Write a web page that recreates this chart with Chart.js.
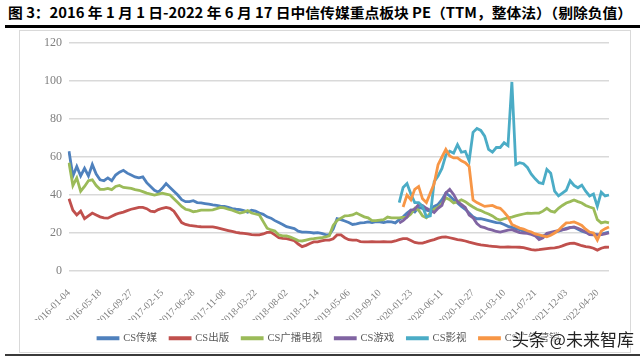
<!DOCTYPE html>
<html><head><meta charset="utf-8">
<script src="https://cdn.jsdelivr.net/npm/chart.js@4.4.1/dist/chart.umd.min.js"></script>
<style>
html,body{margin:0;padding:0;background:#fff;}
#wrap{position:relative;width:640px;height:356px;overflow:hidden;background:#fff;}
#title{position:absolute;left:8px;top:4px;font:bold 14px "Noto Sans CJK SC",sans-serif;color:#000;white-space:nowrap;line-height:16px;transform-origin:0 0;}
#rule{position:absolute;left:5px;right:0;top:25px;height:3px;background:#000;}
#frame{position:absolute;left:19px;top:30px;width:610px;height:321px;border:1px solid #d9d9d9;}
#bottom{position:absolute;left:5px;right:0;top:354px;height:2px;background:#3a3a3a;}
#c{position:absolute;left:0;top:0;}
#wm{position:absolute;left:512px;top:328px;font:17px "Noto Sans CJK SC",sans-serif;color:#222;white-space:nowrap;line-height:22px;text-shadow:0 0 2px #fff,0 0 3px #fff,0 0 3px #fff;}
</style></head>
<body><div id="wrap">
<div id="title">图 3：2016 年 1 月 1 日-2022 年 6 月 17 日中信传媒重点板块 PE（TTM，整体法）（剔除负值）</div>
<div id="rule"></div>
<div id="frame"></div>
<canvas id="c" width="640" height="356"></canvas>
<div id="bottom"></div>
<div id="wm">头条 @未来智库</div>
</div>
<script>
// tick labels shown on the x axis (one every 8 data points)
const tickLabels = ['2016-01-04','2016-05-18','2016-09-27','2017-02-15','2017-06-28','2017-11-08','2018-03-22','2018-08-02','2018-12-14','2019-05-06','2019-09-10','2020-01-23','2020-06-11','2020-10-27','2021-03-10','2021-07-21','2021-12-03','2022-04-20'];
const seriesNames = ['CS传媒','CS出版','CS广播电视','CS游戏','CS影视','CS广告营销'];
const POINTS = 140;
const STEP = 8;

const csMedia = [63,50,55,50,54,50,56,51,48,47.5, 49,47.5,50.5,52,53,51.5,50.5,49.5,49,49.5, 46.5,44.5,42.5,41.5,43.5,46,44,42,40,37.5, 36.5,36.5,37,36,35.8,35.5,35.2,34.8,34.5,34.2, 34,33.5,32.8,32.5,32.3,31.8,31,32,31.5,30.5, 29.8,28.5,27.8,26.5,25.5,24.5,23.3,22.8,22.3,21, 20.5,20.5,20.3,20,20.2,19.8,19.2,19,22,27.5, 27,26.3,25.5,24.5,24.8,25.3,25.5,25.8,25.5,26, 25.8,25.5,26,25.8,25.3,27,28.5,30.5,32,31, 33.5,33,32,31.5,34,35,37.5,41,39.5,37.5, 35.8,34,32.5,30.5,28.5,27.5,27.5,27,26.5,26, 25.5,25.3,24.5,23.5,23,22.3,21.8,21,20.5,19.8, 19,18,18.5,19.2,19.8,20.5,21,21.8,22.5,23, 23,22,21,20.3,19.8,19.5,19,19.3,20,20.5];
const csPublish = [38,32,29.5,31.5,27.5,29,30.5,29.5,28.5,28, 27.8,28.8,29.8,30.5,31,31.8,32.5,33,33.5,33.5, 32.8,31.5,31.2,32.3,33,33.5,33,31.5,28.5,25.5, 24.5,24,23.8,23.5,23.3,23.2,23.2,23.2,22.8,22.3, 21.8,21.3,20.8,20.3,20,19.8,19.5,19.2,19,19, 19.5,20.3,20.3,19,17.6,17.2,17,16.5,16,14.2, 12.8,13.5,14.5,15.3,15.3,15.8,16.2,16.3,17,19, 19,17.5,16.5,16.3,16.3,15.5,15.3,15.3,15.5,15.3, 15.3,15.5,15.3,15.3,15.8,16.5,17,17,16,15, 14.7,14.7,15.3,16,16.5,17.3,17.8,18,17.5,17, 16.5,16.3,15.8,15.2,14.7,14.2,13.7,13.5,13.2,13, 12.8,12.6,12.6,12.7,12.6,12.6,12.5,12.3,11.8,11.3, 11,11.2,11.5,11.8,12,12.2,12.5,13.2,14,14.5, 14.7,14,13.3,12.8,12.6,12,11,12,12.5,12.6];
const csBroadcast = [57,45,49,42,44.5,47.5,48,45,43,43, 43.5,42.8,44.5,45,44,43.8,43.5,42.8,42.5,41.8, 41,40.5,40,40.5,41,40.5,40,38,36,34, 32.5,32,31.2,31.5,32,32,32,32.2,32.8,33.5, 33.2,32.5,32,31.2,30.5,31,31.8,30.5,30,29.5, 26,22.5,21.6,21,19,18.5,18.5,17.8,17,16, 15.8,16.3,16.8,17,17.3,17.5,17.9,18.5,24,26.5, 27.8,29,29.2,29.5,30.5,29.5,28.5,28,26.5,26.5, 26.8,27,28.4,28,28,28,28.2,28.4,30,33, 32,29,28,30.5,32.5,33.5,35.5,38.5,37.5,35.8, 36.5,37.5,36.5,35,33.7,32.5,31.8,30.8,30,29, 27.5,26.8,27.5,28,28.4,29,29.5,30,30.5,30.3, 30.5,30.5,31.5,33,31.5,31,33,34.5,35.8,36.5, 37.4,36.5,35.8,34.5,33.7,33,27,25.3,25.8,25.3];
// the three series below start later (first value at index 85 / 85 / 86)
const gameStart = 85;
const csGame = [25.3,26.5,28.4,32,32.5, 35,34.5,33,32,30.8,33,34.5,41,43,40.3, 36.5,35,33.5,29.5,28,25,23.3,22.8,22,21.5, 20.8,20.5,21,21.5,21.8,21,20.2,20,19.8,19.2, 18.5,16.5,17.5,19.8,20.3,20.8,21.3,21.6,22,22.8, 23.2,22.5,21.6,20.5,19.2,19,19,19.2,19.6,20];
const filmStart = 85;
const csFilm = [36,44,46,40.5,36, 36,34,28.5,29,47,50,54,61,63,62, 66.5,62.5,63,58,73,75,74,71,64,62.6, 65,65,67.5,66,99.5,56,57,56.5,54.5,51, 48.5,46.5,46,53.5,51.5,42,39.5,41,42.5,47.5, 45,43.8,45.2,42,39.5,40.5,34,41.5,39.5,40];
const adStart = 86;
const csAd = [33.7,40,37.5,43, 44.5,38,36,41,46,56,60,64,60.5,59.5, 59.5,58,57,55,37.4,36,35,34,34.3,34.5, 33.5,33,31,28.5,24.5,23.5,22.6,22,21.2,20.5, 19.5,19,18.5,18,18.8,20,21.5,23.5,25.3,25.5, 25.8,25,24,22,20.5,20,16.3,21,22.3,23.2];
const yTicks = {min:0, max:120, step:20};

const colors = ['#4F81BD','#C0504D','#9BBB59','#8064A2','#4BACC6','#F79646'];

function pad(start, arr){ return new Array(start).fill(null).concat(arr); }
const categories = [];
for (let i = 0; i < POINTS; i++) categories.push(i % STEP === 0 ? (tickLabels[i / STEP] || '') : '');

const seriesData = [csMedia, csPublish, csBroadcast, pad(gameStart, csGame), pad(filmStart, csFilm), pad(adStart, csAd)];
const datasets = seriesData.map((d, k) => ({
  label: seriesNames[k], data: d, borderColor: colors[k], backgroundColor: colors[k],
  borderWidth: 2.8, pointRadius: 0, tension: 0, spanGaps: false, order: 6 - k
}));

const LEGEND_X = 98;
const legendShift = {
  id: 'legendShift',
  afterLayout(chart) {
    const lg = chart.legend; if (!lg || !lg.lineWidths) return;
    const p = lg.options.labels.padding;
    const cur = (lg.left + p + lg.right - lg.lineWidths[0]) / 2;
    const d = LEGEND_X - cur; lg.left += d; lg.right += d;
  }
};

const serif = '"Liberation Serif","Noto Sans CJK SC",serif';
new Chart(document.getElementById('c'), {
  type: 'line',
  data: { labels: categories, datasets },
  options: {
    responsive: false, animation: false, devicePixelRatio: 1,
    layout: { padding: { left: 20, right: 31, top: 43, bottom: 2.5 } },
    plugins: {
      tooltip: { enabled: false },
      legend: {
        position: 'bottom', align: 'center',
        labels: { boxWidth: 20, boxHeight: 1, padding: 13, color: '#595959',
          font: { family: serif, size: 10.5 }, sort: (a, b) => a.datasetIndex - b.datasetIndex }
      }
    },
    scales: {
      x: {
        grid: { display: false }, border: { display: false },
        ticks: { autoSkip: false, minRotation: 45, maxRotation: 45, padding: 8, color: '#808080',
          font: { family: serif, size: 10 } },
        afterFit(s) { s.height = 49; }
      },
      y: {
        min: yTicks.min, max: yTicks.max,
        grid: { color: '#d9d9d9', lineWidth: 1.6, drawTicks: false }, border: { display: false },
        ticks: { stepSize: yTicks.step, padding: 7, color: '#7f7f7f', font: { family: serif, size: 12 } },
        afterFit(s) { s.width = 49; }
      }
    }
  },
  plugins: [legendShift]
});

const t = document.getElementById('title');
const w = t.getBoundingClientRect().width;
t.style.transform = 'scaleX(' + (624 / w) + ')';
</script>
</body></html>
